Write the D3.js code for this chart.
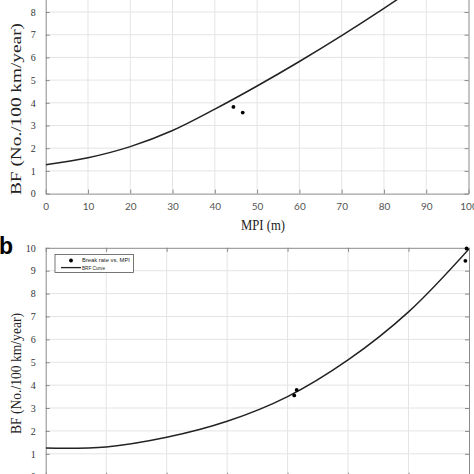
<!DOCTYPE html>
<html>
<head>
<meta charset="utf-8">
<script src="https://cdn.jsdelivr.net/npm/d3@7"></script>
<style>
  html, body { margin: 0; padding: 0; background: #fff; overflow: hidden; }
  svg { display: block; }
</style>
</head>
<body>
<script>
// ---------- DATA ----------
// Panel a
const xTicksA = [0, 10, 20, 30, 40, 50, 60, 70, 80, 90, 100];
const yTicks = [0, 1, 2, 3, 4, 5, 6, 7, 8, 9, 10];
const curveA_MPI = [0, 10, 20, 30, 40, 50, 60, 70, 80, 90];
const curveA_BF  = [1.27, 1.58, 2.07, 2.78, 3.72, 4.74, 5.82, 6.96, 8.16, 9.42];
const pointsA_MPI = [44.4, 46.6];
const pointsA_BF  = [3.82, 3.57];
// Panel b
const xTicksB = [0, 10, 20, 30, 40, 50, 60, 70];
const curveB_MPI = [0, 10, 20, 30, 40, 50, 60, 70];
const curveB_BF  = [1.25, 1.30, 1.72, 2.42, 3.50, 5.10, 7.20, 9.95];
const pointsB_MPI = [41.1, 41.5, 69.4, 69.6];
const pointsB_BF  = [3.55, 3.79, 9.43, 9.97];
const legendLabels = ["Break rate vs. MPI", "BRF Curve"];
const yTitle = "BF (No./100 km/year)";
const xTitle = "MPI (m)";

// ---------- DRAW ----------
const W = 474, H = 474;
const svg = d3.select("body").append("svg").attr("width", W).attr("height", H);
svg.append("rect").attr("width", W).attr("height", H).attr("fill", "#fff");

const serif = "'Liberation Serif','Times New Roman',serif";
const sans = "'Liberation Sans',Arial,sans-serif";

function panel(cfg) {
  const { x, y, xTicks, curveX, curveY, ptX, ptY, xLabelFont, clipId } = cfg;
  const [x0, x1] = x.range();
  const [y0, y1] = y.range();
  const g = svg.append("g");

  svg.append("clipPath").attr("id", clipId).append("rect")
    .attr("x", x0).attr("y", y1).attr("width", x1 - x0).attr("height", y0 - y1);

  // grid
  const grid = g.append("g");
  grid.selectAll("line.v").data(xTicks.slice(1, -1)).join("line")
    .attr("x1", d => x(d)).attr("x2", d => x(d)).attr("y1", y0).attr("y2", y1)
    .attr("stroke", "#e4e4e4").attr("stroke-width", 1);
  grid.selectAll("line.h").data(yTicks.slice(1, -1)).join("line")
    .attr("x1", x0).attr("x2", x1).attr("y1", d => y(d)).attr("y2", d => y(d))
    .attr("stroke", "#e4e4e4").attr("stroke-width", 1);

  // axes (inward ticks)
  const axB = g.append("g").attr("transform", `translate(0,${y0})`)
    .call(d3.axisBottom(x).tickValues(xTicks).tickSizeInner(-4).tickSizeOuter(0).tickPadding(9)
      .tickFormat(d3.format("d")));
  axB.selectAll("text").attr("font-family", xLabelFont).attr("font-size", 10).attr("fill", "#555");
  const axT = g.append("g").attr("transform", `translate(0,${y1})`)
    .call(d3.axisTop(x).tickValues(xTicks).tickSizeInner(-4).tickSizeOuter(0).tickFormat(() => ""));
  const axL = g.append("g").attr("transform", `translate(${x0},0)`)
    .call(d3.axisLeft(y).tickValues(yTicks).tickSizeInner(-4).tickSizeOuter(0).tickPadding(10)
      .tickFormat(d3.format("d")));
  axL.selectAll("text").attr("font-family", serif).attr("font-size", 10).attr("fill", "#333");
  const axR = g.append("g").attr("transform", `translate(${x1},0)`)
    .call(d3.axisRight(y).tickValues(yTicks).tickSizeInner(-4).tickSizeOuter(0).tickFormat(() => ""));
  [axB, axT, axL, axR].forEach(a => {
    a.select(".domain").attr("stroke", "#8a8a8a");
    a.selectAll(".tick line").attr("stroke", "#8a8a8a");
  });

  // curve
  const line = d3.line().x(d => x(d[0])).y(d => y(d[1])).curve(d3.curveCatmullRom.alpha(0.5));
  g.append("path").datum(curveX.map((v, i) => [v, curveY[i]]))
    .attr("clip-path", `url(#${clipId})`)
    .attr("d", line).attr("fill", "none").attr("stroke", "#222").attr("stroke-width", 1.5);

  // points
  g.selectAll("circle.pt").data(ptX.map((v, i) => [v, ptY[i]])).join("circle")
    .attr("cx", d => x(d[0])).attr("cy", d => y(d[1])).attr("r", 1.9).attr("fill", "#000");
  return g;
}

// Panel a
const xA = d3.scaleLinear().domain([0, 100]).range([45.7, 468.5]);
const yA = d3.scaleLinear().domain([0, 10]).range([193.6, -33.4]);
panel({ x: xA, y: yA, xTicks: xTicksA, curveX: curveA_MPI, curveY: curveA_BF,
        ptX: pointsA_MPI, ptY: pointsA_BF, xLabelFont: "Lato, 'Open Sans', sans-serif",
        clipId: "clipA" });

// Panel b
const xB = d3.scaleLinear().domain([0, 70]).range([45.7, 469]);
const yB = d3.scaleLinear().domain([0, 10]).range([476.7, 247.8]);
panel({ x: xB, y: yB, xTicks: xTicksB, curveX: curveB_MPI, curveY: curveB_BF,
        ptX: pointsB_MPI, ptY: pointsB_BF, xLabelFont: serif,
        clipId: "clipB" });

// axis titles
svg.append("text").attr("transform", "translate(20.5,109) rotate(-90)")
  .attr("text-anchor", "middle").attr("font-family", serif).attr("font-size", 14)
  .attr("fill", "#222").attr("textLength", 172).attr("lengthAdjust", "spacingAndGlyphs")
  .text(yTitle);
svg.append("text").attr("transform", "translate(20.5,373.5) rotate(-90)")
  .attr("text-anchor", "middle").attr("font-family", serif).attr("font-size", 14)
  .attr("fill", "#222").attr("textLength", 121).attr("lengthAdjust", "spacingAndGlyphs")
  .text(yTitle);
svg.append("text").attr("x", 241).attr("y", 230)
  .attr("font-family", serif).attr("font-size", 14).attr("fill", "#222")
  .attr("textLength", 44).attr("lengthAdjust", "spacingAndGlyphs")
  .text(xTitle);

// panel label
svg.append("text").attr("x", -1).attr("y", 254)
  .attr("font-family", sans).attr("font-weight", "bold").attr("font-size", 23)
  .attr("fill", "#000").text("b");

// legend
const lg = svg.append("g");
lg.append("rect").attr("x", 55).attr("y", 254.5).attr("width", 78.5).attr("height", 18)
  .attr("fill", "#fff").attr("stroke", "#555").attr("stroke-width", 0.8);
lg.append("circle").attr("cx", 71).attr("cy", 260.5).attr("r", 1.9).attr("fill", "#000");
lg.append("line").attr("x1", 61).attr("x2", 81).attr("y1", 267.6).attr("y2", 267.6)
  .attr("stroke", "#222").attr("stroke-width", 1.3);
lg.append("text").attr("x", 82).attr("y", 262.3).attr("font-family", sans).attr("font-size", 5.5)
  .attr("fill", "#222").attr("textLength", 48).attr("lengthAdjust", "spacingAndGlyphs")
  .text(legendLabels[0]);
lg.append("text").attr("x", 82).attr("y", 269.5).attr("font-family", sans).attr("font-size", 5.5)
  .attr("fill", "#222").attr("textLength", 23).attr("lengthAdjust", "spacingAndGlyphs")
  .text(legendLabels[1]);
</script>
</body>
</html>
